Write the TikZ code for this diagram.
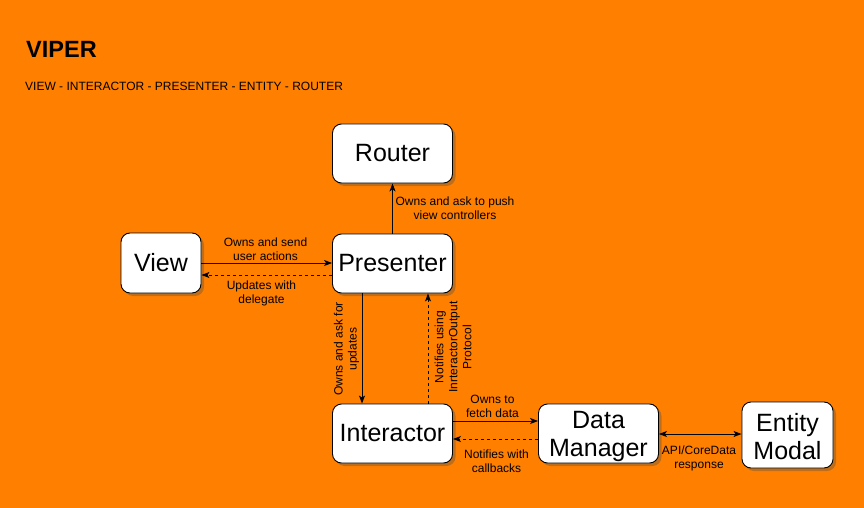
\documentclass[tikz,border=0pt]{standalone}
\usepackage{fontspec}
\setmainfont{Liberation Sans}
\usetikzlibrary{arrows.meta,shadows}
\definecolor{bgorange}{RGB}{255,128,0}
\tikzset{
  box/.style={draw=black, line width=0.9pt, fill=white, rounded corners=9pt, align=center,
    font=\fontsize{25}{28}\selectfont, inner sep=0pt,
    drop shadow={shadow xshift=3pt, shadow yshift=-3pt, opacity=0.35, fill=black!70}},
  boxtext/.style={align=center, font=\fontsize{25}{28}\selectfont, inner sep=0pt},
  lbl/.style={align=center, font=\fontsize{12}{14}\selectfont, inner sep=0pt, text=black},
  conn/.style={line width=0.9pt, -{Stealth[length=8pt,width=6pt,inset=2pt]}},
  dconn/.style={conn, dash pattern=on 3pt off 3pt},
  both/.style={line width=0.9pt, {Stealth[length=8pt,width=6pt,inset=2pt]}-{Stealth[length=8pt,width=6pt,inset=2pt]}}
}
\begin{document}
\begin{tikzpicture}[x=1pt,y=-1pt]
\fill[bgorange] (0,0) rectangle (864,508);
\useasboundingbox (0,0) rectangle (864,508);

\node[anchor=west, font=\fontsize{23.5}{26}\selectfont\bfseries, inner sep=0pt] (title) at (26,49.5) {VIPER};
\node[anchor=west, font=\fontsize{12}{14}\selectfont, inner sep=0pt] (sub) at (25,86.5) {VIEW - INTERACTOR - PRESENTER - ENTITY - ROUTER};

\node[box, minimum width=120pt, minimum height=59pt] (router) at (392.5,153.5) {Router};
\node[box, minimum width=80pt, minimum height=60pt] (view) at (161,263) {View};
\node[box, minimum width=120pt, minimum height=59pt] (pres) at (392.5,263.5) {Presenter};
\node[box, minimum width=120pt, minimum height=59pt] (inter) at (392.5,433.5) {Interactor};
\node[box, minimum width=120pt, minimum height=59pt] (dm) at (598.5,433.5) {};
\node[boxtext] (dmt) at (598.5,436.5) {Data\\Manager};
\node[box, minimum width=91pt, minimum height=66pt] (ent) at (787.5,435) {};
\node[boxtext] (entt) at (787.5,437) {Entity\\Modal};

% Presenter -> Router
\draw[conn] (pres.north) -- (router.south);
\node[lbl] (l1) at (455,208.5) {Owns and ask to push\\view controllers};

% View <-> Presenter
\coordinate (vA) at (view.east |- 0,263);
\coordinate (pA) at (pres.west |- 0,263);
\coordinate (vB) at (view.east |- 0,275);
\coordinate (pB) at (pres.west |- 0,275);
\draw[conn] (vA) -- (pA);
\draw[dconn] (pB) -- (vB);
\node[lbl] (l2) at (265.5,249.5) {Owns and send\\user actions};
\node[lbl] (l3) at (261.5,293.5) {Updates with\\delegate};

% Presenter <-> Interactor
\coordinate (pC) at (pres.south -| 362,0);
\coordinate (iC) at (inter.north -| 362,0);
\coordinate (pD) at (pres.south -| 428,0);
\coordinate (iD) at (inter.north -| 428,0);
\draw[conn] (pC) -- (iC);
\draw[dconn] (iD) -- (pD);
\node[lbl, rotate=90] (l4) at (346.5,349) {Owns and ask for\\updates};
\node[lbl, rotate=90] (l5) at (453,347) {Notifies using\\InrteractorOutput\\Protocol};

% Interactor <-> Data Manager
\coordinate (iE) at (inter.east |- 0,421);
\coordinate (dE) at (dm.west |- 0,421);
\coordinate (iF) at (inter.east |- 0,439);
\coordinate (dF) at (dm.west |- 0,439);
\draw[conn] (iE) -- (dE);
\draw[dconn] (dF) -- (iF);
\node[lbl] (l6) at (492.5,406.5) {Owns to\\fetch data};
\node[lbl] (l7) at (496.5,461) {Notifies with\\callbacks};

% Data Manager <-> Entity
\coordinate (dG) at (dm.east |- 0,434);
\coordinate (eG) at (ent.west |- 0,434);
\draw[both] (dG) -- (eG);
\node[lbl] (l8) at (699,458.5) {API/CoreData\\response};
\end{tikzpicture}
\end{document}
